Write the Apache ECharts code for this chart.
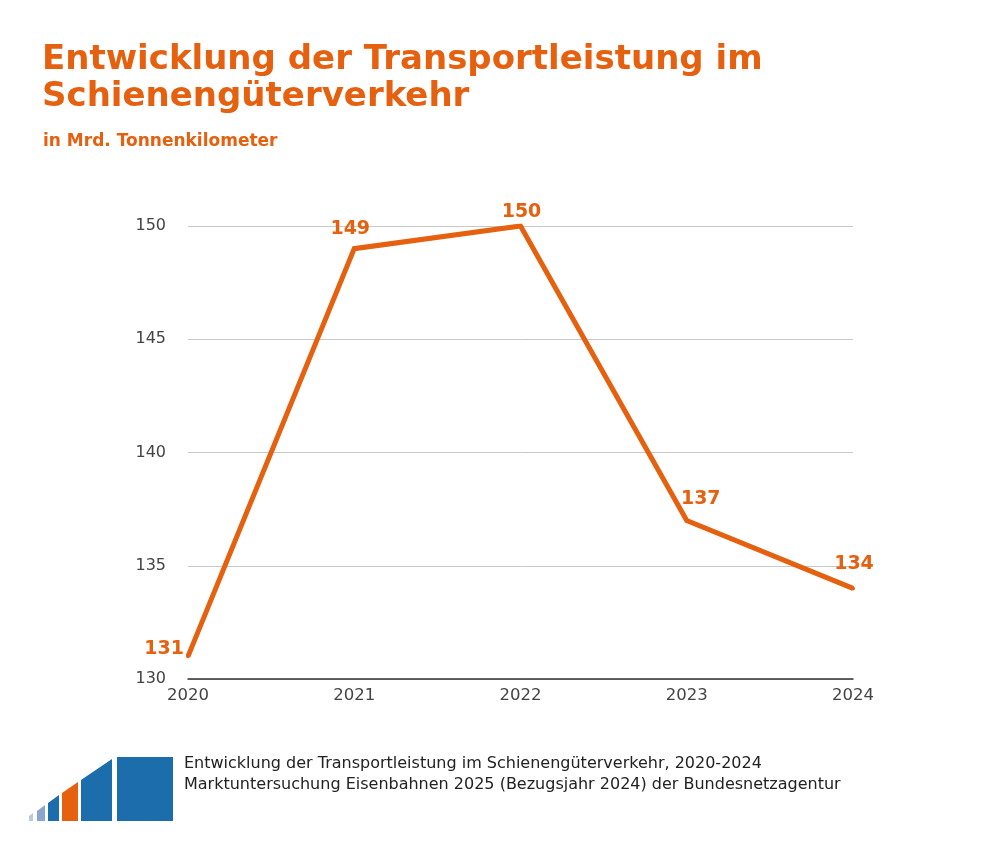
<!DOCTYPE html>
<html>
<head>
<meta charset="utf-8">
<script src="https://cdn.jsdelivr.net/npm/echarts@6/dist/echarts.min.js"></script>
<style>
  html, body { margin: 0; padding: 0; background: #fff; }
  #chart { width: 1000px; height: 845px; }
</style>
</head>
<body>
<div id="chart"></div>
<script>
// data
const years = ["2020", "2021", "2022", "2023", "2024"];
const tonneKm = [131, 149, 150, 137, 134];
const yTicks = [130, 135, 140, 145, 150];

const ORANGE = "#e5600f";
const BLUE = "#1c6dab";
const FONT = "DejaVu Sans";

// label placement per point, as in the original
const labelPlace = [
  { position: "left", distance: 2, offset: [0, -7] },
  { position: "top", distance: 8, offset: [-4, 0] },
  { position: "top", distance: 2, offset: [1, 0] },
  { position: "top", distance: 10, offset: [14, 0] },
  { position: "top", distance: 13, offset: [1, 0] }
];

const chart = echarts.init(document.getElementById("chart"));

const option = {
  backgroundColor: "#fff",
  animation: false,
  title: [
    {
      text: "Entwicklung der Transportleistung im\nSchienengüterverkehr",
      left: 42,
      top: 42,
      padding: 0,
      textStyle: {
        fontFamily: FONT,
        fontWeight: "bold",
        fontSize: 34,
        lineHeight: 37,
        color: ORANGE
      }
    },
    {
      text: "in Mrd. Tonnenkilometer",
      left: 43,
      top: 133,
      padding: 0,
      textStyle: {
        fontFamily: FONT,
        fontWeight: "bold",
        fontSize: 17,
        color: ORANGE
      }
    }
  ],
  grid: {
    left: 188,
    right: 147,
    top: 226,
    bottom: 166,
    containLabel: false
  },
  xAxis: {
    type: "category",
    data: years,
    boundaryGap: false,
    axisLine: { show: true, lineStyle: { color: "#333", width: 1.5 } },
    axisTick: { show: false },
    axisLabel: {
      color: "#444",
      fontFamily: FONT,
      fontSize: 16.5,
      margin: 8
    }
  },
  yAxis: {
    type: "value",
    min: yTicks[0],
    max: yTicks[yTicks.length - 1],
    interval: 5,
    axisLine: { show: false },
    axisTick: { show: false },
    splitLine: { lineStyle: { color: "#c8c8c8", width: 1 } },
    axisLabel: {
      color: "#444",
      fontFamily: FONT,
      fontSize: 16,
      margin: 22,
      verticalAlign: "middle"
    }
  },
  series: [
    {
      type: "line",
      data: tonneKm.map((v, i) => ({
        value: v,
        label: labelPlace[i]
      })),
      symbol: "circle",
      symbolSize: 4,
      itemStyle: { color: ORANGE },
      lineStyle: { color: ORANGE, width: 5, join: "miter", cap: "butt" },
      label: {
        show: true,
        color: ORANGE,
        fontFamily: FONT,
        fontWeight: "bold",
        fontSize: 19
      },
      z: 3
    }
  ],
  graphic: [
    // logo bars
    { type: "polygon", shape: { points: [[29, 821], [29, 816], [33, 813], [33, 821]] }, style: { fill: "#b9c9e0" } },
    { type: "polygon", shape: { points: [[37, 821], [37, 811], [45, 805], [45, 821]] }, style: { fill: "#8aa6d0" } },
    { type: "polygon", shape: { points: [[48, 821], [48, 803], [59, 795], [59, 821]] }, style: { fill: BLUE } },
    { type: "polygon", shape: { points: [[62, 821], [62, 793], [78, 782], [78, 821]] }, style: { fill: ORANGE } },
    { type: "polygon", shape: { points: [[81, 821], [81, 780], [112, 759], [112, 821]] }, style: { fill: BLUE } },
    { type: "rect", shape: { x: 117, y: 757, width: 56, height: 64 }, style: { fill: BLUE } },
    // source note
    {
      type: "text",
      left: 184,
      top: 753,
      style: {
        text: "Entwicklung der Transportleistung im Schienengüterverkehr, 2020-2024\nMarktuntersuchung Eisenbahnen 2025 (Bezugsjahr 2024) der Bundesnetzagentur",
        fontFamily: FONT,
        fontSize: 16,
        lineHeight: 21,
        fill: "#222"
      }
    }
  ]
};

chart.setOption(option);
</script>
</body>
</html>
